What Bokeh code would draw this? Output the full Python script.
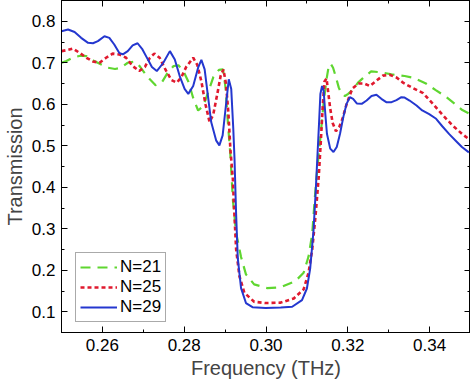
from bokeh.plotting import figure
from bokeh.models import (Range1d, LinearAxis, SingleIntervalTicker, PrintfTickFormatter,
                          CustomJSTickFormatter, Legend, LegendItem)
from bokeh.embed import file_html
from bokeh.resources import INLINE

# ---- data ----
freq_21 = [0.2500, 0.2512, 0.2527, 0.2546, 0.2561, 0.2580, 0.2597, 0.2614, 0.2631, 0.2645,
           0.2662, 0.2679, 0.2691, 0.2704, 0.2716, 0.2730, 0.2745, 0.2759, 0.2774, 0.2786,
           0.2798, 0.2810, 0.2822, 0.2834, 0.2847, 0.2859, 0.2871, 0.2885, 0.2895, 0.2901,
           0.2907, 0.2913, 0.2919, 0.2927, 0.2939, 0.2951, 0.2971, 0.3003, 0.3036, 0.3072,
           0.3092, 0.3104, 0.3113, 0.3119, 0.3125, 0.3129, 0.3133, 0.3141, 0.3148, 0.3153,
           0.3158, 0.3164, 0.3171, 0.3178, 0.3185, 0.3193, 0.3201, 0.3213, 0.3225, 0.3237,
           0.3257, 0.3282, 0.3307, 0.3339, 0.3360, 0.3391, 0.3415, 0.3440, 0.3465, 0.3480,
           0.3496]
trans_21 = [0.700, 0.704, 0.712, 0.717, 0.716, 0.704, 0.696, 0.688, 0.685, 0.688,
            0.700, 0.703, 0.692, 0.674, 0.660, 0.646, 0.652, 0.675, 0.692, 0.694,
            0.680, 0.655, 0.615, 0.585, 0.596, 0.630, 0.665, 0.683, 0.684, 0.640,
            0.553, 0.477, 0.370, 0.290, 0.232, 0.190, 0.166, 0.157, 0.159, 0.174,
            0.194, 0.233, 0.288, 0.370, 0.440, 0.480, 0.520, 0.605, 0.660, 0.690,
            0.698, 0.688, 0.665, 0.640, 0.624, 0.620, 0.625, 0.636, 0.652, 0.663,
            0.679, 0.677, 0.672, 0.668, 0.664, 0.650, 0.634, 0.618, 0.598, 0.586,
            0.578]

freq_25 = [0.2500, 0.2516, 0.2528, 0.2544, 0.2561, 0.2577, 0.2593, 0.2609, 0.2625, 0.2641,
           0.2658, 0.2674, 0.2690, 0.2704, 0.2716, 0.2727, 0.2740, 0.2755, 0.2769, 0.2782,
           0.2793, 0.2805, 0.2822, 0.2832, 0.2842, 0.2852, 0.2862, 0.2871, 0.2881, 0.2889,
           0.2896, 0.2902, 0.2908, 0.2913, 0.2919, 0.2921, 0.2927, 0.2935, 0.2947, 0.2971,
           0.2999, 0.3036, 0.3068, 0.3092, 0.3104, 0.3113, 0.3121, 0.3129, 0.3134, 0.3139,
           0.3143, 0.3148, 0.3152, 0.3157, 0.3163, 0.3171, 0.3179, 0.3187, 0.3197, 0.3211,
           0.3226, 0.3240, 0.3254, 0.3270, 0.3286, 0.3302, 0.3320, 0.3335, 0.3359, 0.3384,
           0.3407, 0.3432, 0.3456, 0.3480, 0.3496]
trans_25 = [0.728, 0.731, 0.734, 0.724, 0.712, 0.703, 0.700, 0.712, 0.722, 0.720,
            0.712, 0.692, 0.680, 0.690, 0.712, 0.722, 0.712, 0.682, 0.658, 0.652,
            0.665, 0.690, 0.712, 0.695, 0.655, 0.600, 0.557, 0.575, 0.625, 0.668,
            0.684, 0.650, 0.580, 0.490, 0.420, 0.370, 0.250, 0.186, 0.146, 0.124,
            0.121, 0.122, 0.132, 0.154, 0.194, 0.250, 0.330, 0.426, 0.510, 0.600,
            0.655, 0.662, 0.630, 0.590, 0.555, 0.535, 0.545, 0.565, 0.600, 0.638,
            0.650, 0.650, 0.644, 0.657, 0.669, 0.671, 0.664, 0.652, 0.639, 0.627,
            0.602, 0.574, 0.549, 0.528, 0.516]

freq_29 = [0.2500, 0.2516, 0.2532, 0.2548, 0.2565, 0.2577, 0.2589, 0.2605, 0.2617, 0.2629,
           0.2641, 0.2650, 0.2662, 0.2674, 0.2686, 0.2698, 0.2710, 0.2721, 0.2733, 0.2749,
           0.2765, 0.2777, 0.2789, 0.2801, 0.2810, 0.2822, 0.2834, 0.2842, 0.2850, 0.2858,
           0.2866, 0.2878, 0.2886, 0.2894, 0.2902, 0.2909, 0.2915, 0.2920, 0.2923, 0.2927,
           0.2931, 0.2939, 0.2951, 0.2967, 0.2999, 0.3036, 0.3064, 0.3088, 0.3100, 0.3108,
           0.3116, 0.3121, 0.3125, 0.3130, 0.3133, 0.3137, 0.3141, 0.3145, 0.3149, 0.3157,
           0.3165, 0.3173, 0.3181, 0.3189, 0.3197, 0.3205, 0.3213, 0.3222, 0.3234, 0.3246,
           0.3258, 0.3270, 0.3282, 0.3294, 0.3307, 0.3319, 0.3331, 0.3339, 0.3351, 0.3368,
           0.3382, 0.3399, 0.3416, 0.3431, 0.3448, 0.3465, 0.3479, 0.3496]
trans_29 = [0.776, 0.780, 0.774, 0.760, 0.748, 0.747, 0.752, 0.764, 0.760, 0.744,
            0.724, 0.720, 0.728, 0.742, 0.747, 0.732, 0.710, 0.690, 0.680, 0.700,
            0.728, 0.708, 0.668, 0.637, 0.625, 0.644, 0.688, 0.707, 0.684, 0.620,
            0.557, 0.513, 0.501, 0.525, 0.597, 0.660, 0.637, 0.541, 0.469, 0.334,
            0.229, 0.157, 0.121, 0.111, 0.109, 0.110, 0.112, 0.128, 0.156, 0.204,
            0.293, 0.380, 0.460, 0.561, 0.625, 0.644, 0.632, 0.577, 0.529, 0.493,
            0.485, 0.497, 0.529, 0.569, 0.601, 0.617, 0.613, 0.602, 0.601, 0.609,
            0.620, 0.623, 0.613, 0.605, 0.605, 0.610, 0.617, 0.616, 0.609, 0.597,
            0.585, 0.576, 0.565, 0.547, 0.528, 0.511, 0.497, 0.484]

labels = ["N=21", "N=25", "N=29"]
x_tick_labels_fmt = "%.2f"
y_tick_labels_fmt = "%.1f"

FONT = "Liberation Sans"

p = figure(width=470, height=381, output_backend="svg", toolbar_location=None,
           x_range=Range1d(0.25, 0.35), y_range=Range1d(0.05, 0.85),
           min_border_left=0, min_border_right=0, min_border_top=0, min_border_bottom=0)
p.grid.visible = False
p.outline_line_color = "black"
p.outline_line_width = 1
p.background_fill_color = "white"
p.border_fill_color = "white"

def style_axis(ax, show_labels):
    ax.axis_line_color = "black"
    ax.axis_line_width = 1
    ax.major_tick_in = 6
    ax.major_tick_out = 0
    ax.minor_tick_in = 3
    ax.minor_tick_out = 0
    ax.major_tick_line_color = "black"
    ax.minor_tick_line_color = "black"
    ax.major_label_text_font = FONT
    ax.major_label_text_color = "black"
    ax.major_label_text_font_size = "17px"
    if not show_labels:
        ax.formatter = CustomJSTickFormatter(code="return ''")
        ax.major_label_standoff = 0

xa = p.xaxis[0]
xa.ticker = SingleIntervalTicker(interval=0.02, num_minor_ticks=2)
xa.formatter = PrintfTickFormatter(format=x_tick_labels_fmt)
style_axis(xa, True)
xa.major_label_standoff = 6
xa.axis_label = "Frequency (THz)"
xa.axis_label_text_font = FONT
xa.axis_label_text_font_size = "20px"
xa.axis_label_text_font_style = "normal"
xa.axis_label_standoff = 3

ya = p.yaxis[0]
ya.ticker = SingleIntervalTicker(interval=0.1, num_minor_ticks=2)
ya.formatter = PrintfTickFormatter(format=y_tick_labels_fmt)
style_axis(ya, True)
ya.major_label_standoff = 6
ya.axis_label = "Transmission"
ya.axis_label_text_font = FONT
ya.axis_label_text_font_size = "20px"
ya.axis_label_text_font_style = "normal"
ya.axis_label_standoff = 3

top = LinearAxis(ticker=SingleIntervalTicker(interval=0.02, num_minor_ticks=2))
style_axis(top, False)
p.add_layout(top, "above")
right = LinearAxis(ticker=SingleIntervalTicker(interval=0.1, num_minor_ticks=2))
style_axis(right, False)
p.add_layout(right, "right")

r21 = p.line(freq_21, trans_21, line_color="#5fd630", line_width=2.2, line_dash="10 7")
r25 = p.line(freq_25, trans_25, line_color="#e0192e", line_width=2.6, line_dash="4 3")
r29 = p.line(freq_29, trans_29, line_color="#2437cf", line_width=2.0)

legend = Legend(items=[LegendItem(label=labels[0], renderers=[r21]),
                       LegendItem(label=labels[1], renderers=[r25]),
                       LegendItem(label=labels[2], renderers=[r29])],
                location=(14, 10))
legend.label_text_font = FONT
legend.label_text_font_size = "17px"
legend.label_text_color = "black"
legend.glyph_width = 37
legend.glyph_height = 20
legend.label_height = 20
legend.label_standoff = 3
legend.spacing = 0
legend.padding = 4
legend.margin = 0
legend.border_line_color = "#555555"
legend.border_line_width = 1
legend.background_fill_color = "white"
legend.background_fill_alpha = 1
p.add_layout(legend, "center")

open("out.html", "w").write(file_html(p, INLINE))
